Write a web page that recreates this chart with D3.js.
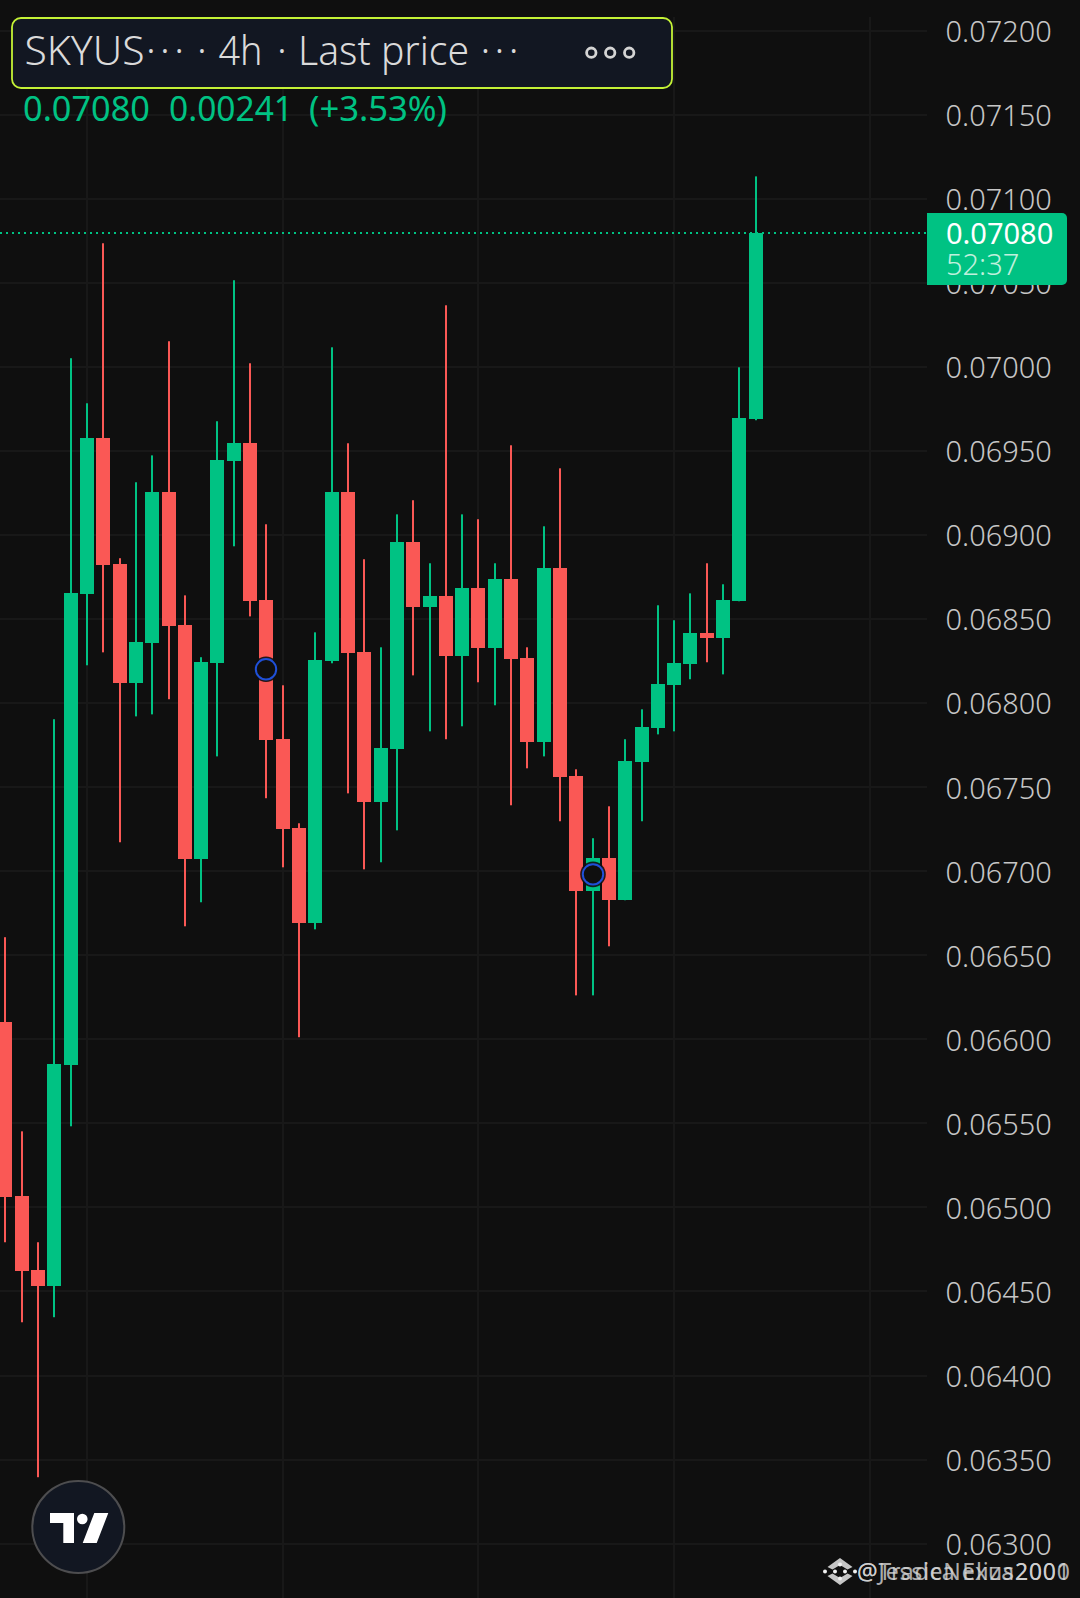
<!DOCTYPE html>
<html>
<head>
<meta charset="utf-8">
<title>SKYUSDT 4h</title>
<script src="https://cdnjs.cloudflare.com/ajax/libs/d3/7.8.5/d3.min.js"></script>
<style>
  html, body { margin: 0; padding: 0; background: #0f0f0f; }
  svg { display: block; }
  text { font-family: "Noto Sans", sans-serif; font-weight: 300; }
</style>
</head>
<body>
<div id="chart"></div>
<script>
// candles, left to right
var opens = [0.066102,0.065066,0.064626,0.064531,0.065846,0.068648,0.069577,0.068827,0.068119,0.068357,0.069255,0.068464,0.067072,0.068238,0.069440,0.069547,
  0.068613,0.067786,0.067256,0.066691,0.068250,0.069255,0.068303,0.067411,0.067726,0.068958,0.068571,0.068636,0.068279,0.068684,0.068327,0.068738,
  0.068268,0.067768,0.068803,0.067565,0.066881,0.067078,0.066828,0.067649,0.067851,0.068107,0.068232,0.068416,0.068387,0.068607,0.069690];
var highs = [0.066608,0.065453,0.064793,0.067905,0.070053,0.069785,0.070737,0.068863,0.069315,0.069475,0.070154,0.068642,0.068274,0.069678,0.070517,0.070023,
  0.069065,0.068107,0.067286,0.068422,0.070118,0.069547,0.068857,0.068333,0.069124,0.069208,0.068833,0.070368,0.069124,0.069095,0.068833,0.069535,
  0.068333,0.069053,0.069398,0.067607,0.067197,0.067387,0.067786,0.067964,0.068583,0.068494,0.068654,0.068833,0.068708,0.069999,0.071135];
var lows = [0.064793,0.064317,0.063395,0.064347,0.065483,0.068226,0.068303,0.067173,0.067922,0.067934,0.068024,0.066673,0.066816,0.067684,0.068934,0.068517,
  0.067435,0.067024,0.066013,0.066655,0.068238,0.067464,0.067012,0.067054,0.067244,0.068166,0.067833,0.067786,0.067863,0.068125,0.067988,0.067393,
  0.067613,0.067684,0.067298,0.066262,0.066262,0.066554,0.066828,0.067298,0.067815,0.067833,0.068143,0.068244,0.068172,0.068607,0.069684];
var closes = [0.065060,0.064620,0.064531,0.065852,0.068654,0.069577,0.068821,0.068119,0.068363,0.069255,0.068458,0.067072,0.068244,0.069446,0.069547,0.068607,
  0.067780,0.067250,0.066691,0.068256,0.069255,0.068297,0.067411,0.067732,0.068958,0.068571,0.068636,0.068279,0.068684,0.068327,0.068738,0.068262,
  0.067768,0.068803,0.067560,0.066881,0.067078,0.066828,0.067655,0.067857,0.068113,0.068238,0.068416,0.068387,0.068613,0.069696,0.070800];

var priceTicks = [0.072,0.0715,0.071,0.0705,0.07,0.0695,0.069,0.0685,0.068,0.0675,0.067,0.0665,0.066,0.0655,0.065,0.0645,0.064,0.0635,0.063];
var timeGrid = [5, 17, 29, 41, 53]; // candle index of the vertical grid lines

var markerIndex = [16, 36];
var markerPrice = [0.068202, 0.066982];

var lastPrice = 0.0708;
var countdown = "52:37";
var titleTexts = ["SKYUS", "\u00b7\u00b7\u00b7", "\u00b7", "4h", "\u00b7", "Last price", "\u00b7\u00b7\u00b7"];
var quoteTexts = ["0.07080", "0.00241", "(+3.53%)"];
var watermarks = ["@TradeNexus2001", "@Jessica Eliza2000"];

var W = 1080, H = 1598, plotR = 927;
var GREEN = "#00c283", RED = "#fa5855", BG = "#0f0f0f", GRID = "#181818";
var titleX = [24.5, 146, 197, 218.5, 277, 298, 480.5];
var titleW = [120, 38, 0, 44, 0, 171, 38];
var quoteX = [23, 169, 309];
var quoteW = [127, 124, 138];

var svg = d3.select("#chart").append("svg").attr("width", W).attr("height", H);
svg.append("rect").attr("width", W).attr("height", H).attr("fill", BG);

var x = d3.scaleLinear().domain([0, 46]).range([5.4, 755.747]);
var y = d3.scaleLinear().domain([0.072, 0.063]).range([31, 1543.6]);

// grid
svg.append("g").selectAll("line").data(priceTicks).enter().append("line")
  .attr("x1", 0).attr("x2", plotR)
  .attr("y1", function (d) { return Math.round(y(d)); })
  .attr("y2", function (d) { return Math.round(y(d)); })
  .attr("stroke", GRID).attr("stroke-width", 2);
svg.append("g").selectAll("line").data(timeGrid).enter().append("line")
  .attr("x1", function (d) { return Math.round(x(d)); })
  .attr("x2", function (d) { return Math.round(x(d)); })
  .attr("y1", 17).attr("y2", H)
  .attr("stroke", GRID).attr("stroke-width", 2);

// price axis
var axis = d3.axisRight(y).tickValues(priceTicks).tickFormat(d3.format(".5f")).tickSize(0).tickPadding(18.6);
var axisG = svg.append("g").attr("transform", "translate(" + plotR + ",0)").call(axis);
axisG.select(".domain").remove();
axisG.selectAll("text")
  .attr("dy", "10.7px")
  .attr("fill", "#c6c6c6")
  .style("font-family", '"Noto Sans", sans-serif')
  .style("font-weight", 300)
  .style("font-size", "28.9px");

// last price line
svg.append("line")
  .attr("x1", 0).attr("x2", plotR)
  .attr("y1", Math.round(y(lastPrice))).attr("y2", Math.round(y(lastPrice)))
  .attr("stroke", GREEN).attr("stroke-width", 2).attr("stroke-dasharray", "2 4");

// candles
var candles = d3.range(opens.length);
var colorOf = function (i) { return closes[i] >= opens[i] ? GREEN : RED; };
var cx = function (i) { return Math.round(x(i)); };

svg.append("g").selectAll("rect").data(candles).enter().append("rect")
  .attr("x", function (i) { return cx(i) - 1; })
  .attr("width", 2)
  .attr("y", function (i) { return y(highs[i]); })
  .attr("height", function (i) { return y(lows[i]) - y(highs[i]); })
  .attr("fill", colorOf);
svg.append("g").selectAll("rect").data(candles).enter().append("rect")
  .attr("x", function (i) { return cx(i) - 7; })
  .attr("width", 14)
  .attr("y", function (i) { return Math.round(y(Math.max(opens[i], closes[i]))); })
  .attr("height", function (i) { return Math.round(y(Math.min(opens[i], closes[i]))) - Math.round(y(Math.max(opens[i], closes[i]))); })
  .attr("fill", colorOf);

// blue markers
var markers = svg.append("g").selectAll("g").data(markerIndex).enter().append("g")
  .attr("transform", function (d, k) { return "translate(" + cx(d) + "," + y(markerPrice[k]) + ")"; });
markers.append("circle").attr("r", 12.8).attr("fill", BG).attr("opacity", 0.9);
markers.append("circle").attr("r", 10.2).attr("fill", BG).attr("stroke", "#1f50d8").attr("stroke-width", 2);

// title box
svg.append("rect")
  .attr("x", 12).attr("y", 18).attr("width", 660).attr("height", 70).attr("rx", 9)
  .attr("fill", "#121722").attr("stroke", "#c4f236").attr("stroke-width", 1.8);
svg.append("g").selectAll("text").data(titleTexts).enter().append("text")
  .attr("x", function (d, k) { return titleX[k]; }).attr("y", 65)
  .attr("fill", "#dadada").style("font-size", "40px")
  .each(function (d, k) {
    if (titleW[k]) d3.select(this).attr("textLength", titleW[k]).attr("lengthAdjust", d.length === 3 ? "spacing" : "spacingAndGlyphs");
  })
  .text(function (d) { return d; });
svg.append("g").selectAll("circle").data([591.3, 610.2, 629.2]).enter().append("circle")
  .attr("cx", function (d) { return d; }).attr("cy", 52.7).attr("r", 4.7)
  .attr("fill", "none").attr("stroke", "#d4d4d4").attr("stroke-width", 2.8);

svg.append("g").selectAll("text").data(quoteTexts).enter().append("text")
  .attr("x", function (d, k) { return quoteX[k]; }).attr("y", 121)
  .attr("fill", GREEN).style("font-size", "34.4px").style("font-weight", 400)
  .attr("textLength", function (d, k) { return quoteW[k]; }).attr("lengthAdjust", "spacingAndGlyphs")
  .text(function (d) { return d; });

// last price tag
var tagTop = Math.round(y(lastPrice)) - 20;
svg.append("path")
  .attr("d", "M" + plotR + "," + tagTop + "H1062a5,5 0 0 1 5,5V" + (tagTop + 67) + "a5,5 0 0 1 -5,5H" + plotR + "Z")
  .attr("fill", GREEN);
svg.append("text").attr("x", 946).attr("y", 243.5).attr("fill", "#ffffff").style("font-size", "29px").style("font-weight", 400)
  .text(d3.format(".5f")(lastPrice));
svg.append("text").attr("x", 946).attr("y", 275).attr("fill", "#c0f0dd").style("font-size", "29px")
  .text(countdown);

// tradingview badge
var logo = svg.append("g").attr("transform", "translate(0,1200)");
logo.append("circle").attr("cx", 78.3).attr("cy", 327).attr("r", 46)
  .attr("fill", "#121722").attr("stroke", "#4d4d4f").attr("stroke-width", 2);
logo.append("path").attr("fill", "#ffffff")
  .attr("d", "M50,313H74V343H63.3V323H50Z M94.3,313H108.3L96.7,343H82.7Z");
logo.append("circle").attr("cx", 82.3).attr("cy", 319).attr("r", 5.3).attr("fill", "#ffffff");

// watermark, two names printed over each other
var wm = svg.append("g").attr("transform", "translate(840,1571.5)");
wm.selectAll("path").data([0, 180]).enter().append("path")
  .attr("transform", function (d) { return "rotate(" + d + ")"; })
  .attr("d", "M-12.5,-4.5L0,-13.5L12.5,-4.5L7.5,-2L0,-6.5L-7.5,-2Z")
  .attr("fill", "#c6c6c6");
wm.selectAll("circle").data([[-15, 0], [-5, 0], [5, 0], [15, 0], [0, -7], [0, 7]]).enter().append("circle")
  .attr("cx", function (d) { return d[0]; }).attr("cy", function (d) { return d[1]; })
  .attr("r", 2).attr("fill", "#f0f0f0");
svg.append("g").selectAll("text").data(watermarks).enter().append("text")
  .attr("x", 857).attr("y", 1580)
  .attr("fill", "#d8d8d8").attr("fill-opacity", 0.8).style("font-size", "23px").style("font-weight", 400)
  .attr("textLength", 213).attr("lengthAdjust", "spacing")
  .text(function (d) { return d; });
</script>
</body>
</html>
